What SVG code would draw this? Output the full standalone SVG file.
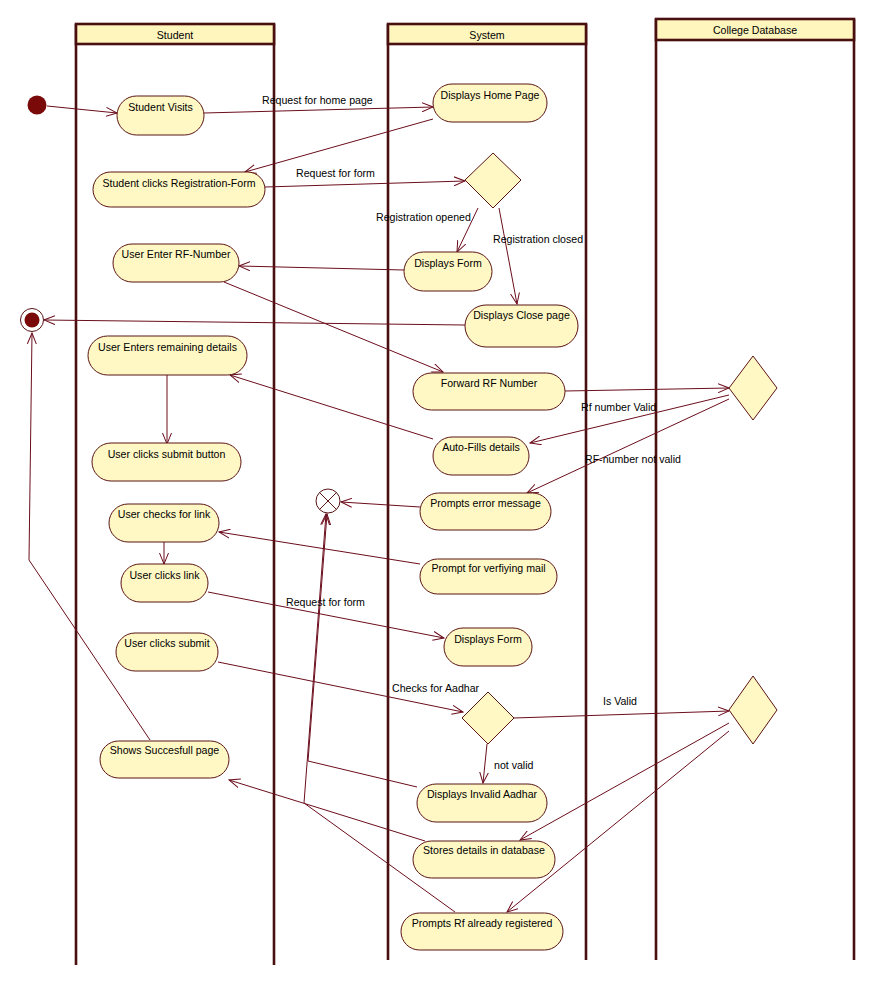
<svg xmlns="http://www.w3.org/2000/svg" width="875" height="984" viewBox="0 0 875 984">
<style>
text{font-family:"Liberation Sans",Arial,sans-serif;font-size:10.6px;fill:#000}
.lane{stroke:#4a0f0f;stroke-width:2.6;fill:none}
.hdr{fill:#fff6bd;stroke:#4a0f0f;stroke-width:2.6}
.act{fill:#fff8c4;stroke:#5a1414;stroke-width:1}
.dia{fill:#fff8c4;stroke:#5a1414;stroke-width:1}
.c{fill:none;stroke:#6b0d1c;stroke-width:1}
.ln{text-anchor:middle}
</style>
<defs>
<marker id="ah" markerUnits="userSpaceOnUse" markerWidth="12" markerHeight="10" refX="11" refY="5" orient="auto">
<path d="M0,0.5 L11,5 L0,9.5" fill="none" stroke="#6b0d1c" stroke-width="1"/>
</marker>
</defs>
<rect width="875" height="984" fill="#fff"/>
<g id="lane-student">
<line class="lane" x1="76" y1="24" x2="76" y2="965"/>
<line class="lane" x1="274" y1="24" x2="274" y2="965"/>
<rect class="hdr" x="76" y="24" width="198" height="20"/>
<text class="ln" x="175" y="38.5">Student</text>
</g>
<g id="lane-system">
<line class="lane" x1="388" y1="24" x2="388" y2="960"/>
<line class="lane" x1="586" y1="24" x2="586" y2="960"/>
<rect class="hdr" x="388" y="24" width="198" height="20"/>
<text class="ln" x="487" y="38.5">System</text>
</g>
<g id="lane-db">
<line class="lane" x1="656" y1="19" x2="656" y2="960"/>
<line class="lane" x1="854" y1="19" x2="854" y2="960"/>
<rect class="hdr" x="656" y="19" width="198" height="21"/>
<text class="ln" x="755" y="34">College Database</text>
</g>
<g id="connectors">
<path class="c" marker-end="url(#ah)" d="M47,106 L117,113"/>
<path class="c" marker-end="url(#ah)" d="M204,113 L433,107"/>
<path class="c" marker-end="url(#ah)" d="M433,119 L245,172"/>
<path class="c" marker-end="url(#ah)" d="M265,187 L465,181"/>
<path class="c" marker-end="url(#ah)" d="M478,208 L457,252"/>
<path class="c" marker-end="url(#ah)" d="M499,208 L517,304"/>
<path class="c" marker-end="url(#ah)" d="M404,270 L239,266"/>
<path class="c" marker-end="url(#ah)" d="M224,282 L443,372"/>
<path class="c" marker-end="url(#ah)" d="M465,325 L44,320"/>
<path class="c" marker-end="url(#ah)" d="M167,375 L167,444"/>
<path class="c" marker-end="url(#ah)" d="M565,391 L729,388"/>
<path class="c" marker-end="url(#ah)" d="M729,395 L530,443"/>
<path class="c" marker-end="url(#ah)" d="M729,399 L527,493"/>
<path class="c" marker-end="url(#ah)" d="M433,439 L230,375"/>
<path class="c" marker-end="url(#ah)" d="M420,507 L341,502"/>
<path class="c" marker-end="url(#ah)" d="M420,564 L219,532"/>
<path class="c" marker-end="url(#ah)" d="M164,542 L164,564"/>
<path class="c" marker-end="url(#ah)" d="M208,592 L444,638"/>
<path class="c" marker-end="url(#ah)" d="M218,662 L463,712"/>
<path class="c" marker-end="url(#ah)" d="M514,718 L729,711"/>
<path class="c" marker-end="url(#ah)" d="M487,744 L483,783"/>
<path class="c" marker-end="url(#ah)" d="M729,723 L520,840"/>
<path class="c" marker-end="url(#ah)" d="M729,731 L507,912"/>
<path class="c" marker-end="url(#ah)" d="M425,841 L229,780"/>
<path class="c" marker-end="url(#ah)" d="M150,740 L29,560 L32,333"/>
<path class="c" marker-end="url(#ah)" d="M417,787 L308,761 L327,514"/>
<path class="c" marker-end="url(#ah)" d="M455,912 L304,803 L326,514"/>
<text x="262" y="104">Request for home page</text>
<text x="296" y="177">Request for form</text>
<text x="376" y="221">Registration opened</text>
<text x="493" y="243">Registration closed</text>
<text x="581" y="411">Rf number Valid</text>
<text x="585" y="463">RF-number not valid</text>
<text x="286" y="606">Request for form</text>
<text x="392" y="692">Checks for Aadhar</text>
<text x="603" y="705">Is Valid</text>
<text x="494" y="769">not valid</text>
</g>
<g id="start"><circle cx="37" cy="105" r="9.5" fill="#7a0a0a"/></g>
<g id="final"><circle cx="32" cy="320" r="11.5" fill="#fff" stroke="#5a1414" stroke-width="1"/><circle cx="32" cy="320" r="7.5" fill="#7a0a0a"/></g>
<g id="flowfinal"><circle cx="328" cy="501" r="12" fill="#fff" stroke="#5a1414" stroke-width="1"/><path d="M319.5,492.5 L336.5,509.5 M336.5,492.5 L319.5,509.5" stroke="#5a1414" stroke-width="1"/></g>
<g id="n-student-visits"><rect class="act" x="117" y="96" width="87" height="39" rx="19.5"/><text class="ln" x="160.5" y="111">Student Visits</text></g>
<g id="n-displays-home"><rect class="act" x="433" y="84" width="114" height="38" rx="19"/><text class="ln" x="490" y="99">Displays Home Page</text></g>
<g id="n-clicks-reg"><rect class="act" x="93" y="172" width="172" height="35" rx="17.5"/><text class="ln" x="179" y="187">Student clicks Registration-Form</text></g>
<g id="d-reg"><path class="dia" d="M493,153 L521,180 L493,208 L465,180 Z"/></g>
<g id="n-enter-rf"><rect class="act" x="113" y="244" width="126" height="38" rx="19"/><text class="ln" x="176" y="258">User Enter RF-Number</text></g>
<g id="n-displays-form1"><rect class="act" x="404" y="252" width="88" height="39" rx="19.5"/><text class="ln" x="448" y="267">Displays Form</text></g>
<g id="n-close-page"><rect class="act" x="465" y="305" width="113" height="42" rx="21"/><text class="ln" x="521.5" y="319">Displays Close page</text></g>
<g id="n-enters-remaining"><rect class="act" x="88" y="336" width="159" height="39" rx="19.5"/><text class="ln" x="167.5" y="351">User Enters remaining details</text></g>
<g id="n-forward-rf"><rect class="act" x="413" y="373" width="152" height="37" rx="18.5"/><text class="ln" x="489" y="387">Forward RF Number</text></g>
<g id="d-db1"><path class="dia" d="M753,356 L777,388 L753,420 L729,388 Z"/></g>
<g id="n-autofills"><rect class="act" x="433" y="437" width="96" height="38" rx="19"/><text class="ln" x="481" y="451">Auto-Fills details</text></g>
<g id="n-submit-button"><rect class="act" x="92" y="443" width="149" height="38" rx="19"/><text class="ln" x="166.5" y="458">User clicks submit button</text></g>
<g id="n-error"><rect class="act" x="420" y="493" width="131" height="37" rx="18.5"/><text class="ln" x="485.5" y="507">Prompts error message</text></g>
<g id="n-checks-link"><rect class="act" x="109" y="504" width="110" height="38" rx="19"/><text class="ln" x="164" y="518">User checks for link</text></g>
<g id="n-verify-mail"><rect class="act" x="420" y="559" width="137" height="35" rx="17.5"/><text class="ln" x="488.5" y="572">Prompt for verfiying mail</text></g>
<g id="n-clicks-link"><rect class="act" x="121" y="564" width="87" height="38" rx="19"/><text class="ln" x="164.5" y="579">User clicks link</text></g>
<g id="n-displays-form2"><rect class="act" x="444" y="628" width="88" height="38" rx="19"/><text class="ln" x="488" y="643">Displays Form</text></g>
<g id="n-clicks-submit"><rect class="act" x="116" y="633" width="102" height="38" rx="19"/><text class="ln" x="167" y="647">User clicks submit</text></g>
<g id="d-aadhar"><path class="dia" d="M488,692 L514,718 L488,744 L462,718 Z"/></g>
<g id="d-db2"><path class="dia" d="M753,676 L777,710 L753,744 L729,710 Z"/></g>
<g id="n-success"><rect class="act" x="100" y="741" width="129" height="37" rx="18.5"/><text class="ln" x="164.5" y="754">Shows Succesfull page</text></g>
<g id="n-invalid-aadhar"><rect class="act" x="417" y="784" width="130" height="38" rx="19"/><text class="ln" x="482" y="798">Displays Invalid Aadhar</text></g>
<g id="n-stores"><rect class="act" x="413" y="841" width="142" height="37" rx="18.5"/><text class="ln" x="484" y="854">Stores details in database</text></g>
<g id="n-already-reg"><rect class="act" x="401" y="913" width="162" height="37" rx="18.5"/><text class="ln" x="482" y="927">Prompts Rf already registered</text></g>
</svg>
